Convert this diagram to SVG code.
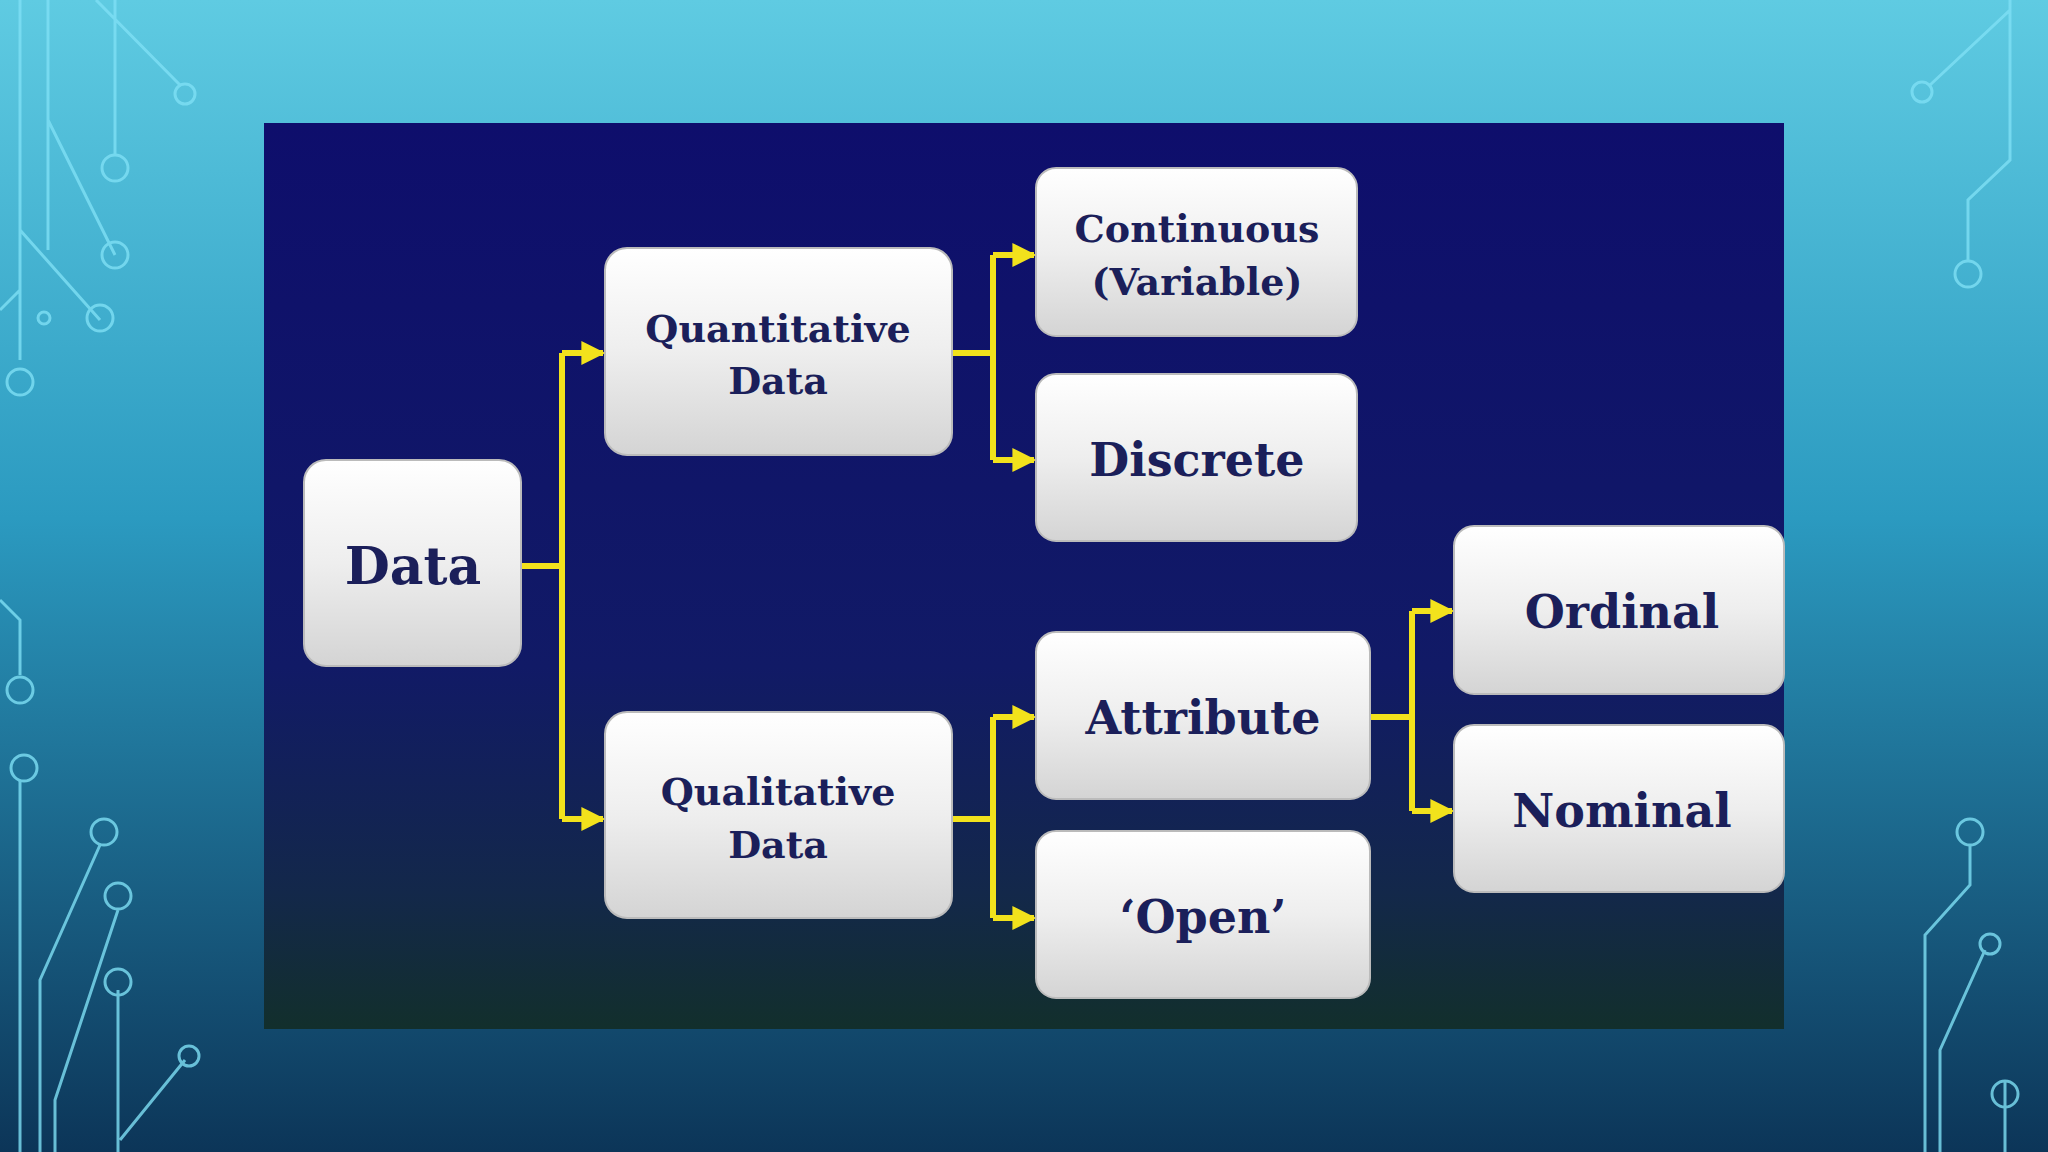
<svg xmlns="http://www.w3.org/2000/svg" width="2048" height="1152" viewBox="0 0 2048 1152">
<defs>
<linearGradient id="bg" x1="0" y1="0" x2="0" y2="1"><stop offset="0" stop-color="#5fcbe2"/><stop offset="0.45" stop-color="#2b9ac0"/><stop offset="1" stop-color="#0c3558"/></linearGradient>
<linearGradient id="panel" x1="0" y1="0" x2="0" y2="1"><stop offset="0" stop-color="#0e0e6c"/><stop offset="0.6" stop-color="#111a66"/><stop offset="0.85" stop-color="#13284a"/><stop offset="1" stop-color="#122f2c"/></linearGradient>
<linearGradient id="box" x1="0" y1="0" x2="0" y2="1"><stop offset="0" stop-color="#ffffff"/><stop offset="0.5" stop-color="#eeeeee"/><stop offset="1" stop-color="#d4d4d4"/></linearGradient>
<marker id="ar" viewBox="0 0 10 10" refX="9" refY="5" markerWidth="4" markerHeight="4" orient="auto"><path d="M0,0L10,5L0,10z" fill="#f2e21c"/></marker>
</defs>
<style>
.n rect{fill:url(#box);stroke:#bbbbbb;stroke-width:2}
.n text{font-family:"DejaVu Serif",serif;font-weight:bold;fill:#1b1f5a;text-anchor:middle}
.c path{fill:none;stroke:#f2e21c;stroke-width:6}
.c .a{marker-end:url(#ar)}
.d{fill:none;stroke:#7fe0f5;stroke-width:3;opacity:0.8}
</style>
<rect width="2048" height="1152" fill="url(#bg)"/>
<g class="d">
<path d="M20 0V360M48 0V250M96 0L180 85M115 0V155M20 230L100 320M48 120L115 255M0 310L20 290"/>
<circle cx="185" cy="94" r="10"/><circle cx="115" cy="168" r="13"/><circle cx="115" cy="255" r="13"/><circle cx="100" cy="318" r="13"/><circle cx="20" cy="382" r="13"/><circle cx="44" cy="318" r="6"/>
<path d="M0 600L20 620V675M20 780V1152M100 845L40 980V1152M118 910L55 1100V1152M118 990V1152M185 1060L120 1140"/>
<circle cx="20" cy="690" r="13"/><circle cx="24" cy="768" r="13"/><circle cx="104" cy="832" r="13"/><circle cx="118" cy="896" r="13"/><circle cx="118" cy="982" r="13"/><circle cx="189" cy="1056" r="10"/>
<path d="M2010 0V10L1930 85M2010 0V160L1968 200V262M1970 845V885L1925 935V1152M1985 950L1940 1050V1152M2005 1080V1152"/>
<circle cx="1922" cy="92" r="10"/><circle cx="1968" cy="274" r="13"/><circle cx="1970" cy="832" r="13"/><circle cx="1990" cy="944" r="10"/><circle cx="2005" cy="1094" r="13"/>
</g>
<rect x="264" y="123" width="1520" height="906" fill="url(#panel)"/>
<g class="c">
<path d="M521 566H562M562 353V819"/>
<path class="a" d="M562 353H603"/><path class="a" d="M562 819H603"/>
<path d="M952 353H993M993 255V460M952 819H993M993 717V918"/>
<path class="a" d="M993 255H1034"/><path class="a" d="M993 460H1034"/><path class="a" d="M993 717H1034"/><path class="a" d="M993 918H1034"/>
<path d="M1370 717H1412M1412 611V811"/>
<path class="a" d="M1412 611H1452"/><path class="a" d="M1412 811H1452"/>
</g>
<g id="data" class="n"><rect x="304" y="460" width="217" height="206" rx="22"/><text x="413" y="584" font-size="52">Data</text></g>
<g id="quantitative" class="n"><rect x="605" y="248" width="347" height="207" rx="22"/><text x="778" y="342" font-size="38">Quantitative</text><text x="778" y="394" font-size="38">Data</text></g>
<g id="qualitative" class="n"><rect x="605" y="712" width="347" height="206" rx="22"/><text x="778" y="805" font-size="38">Qualitative</text><text x="778" y="858" font-size="38">Data</text></g>
<g id="continuous" class="n"><rect x="1036" y="168" width="321" height="168" rx="20"/><text x="1197" y="242" font-size="38">Continuous</text><text x="1197" y="295" font-size="38">(Variable)</text></g>
<g id="discrete" class="n"><rect x="1036" y="374" width="321" height="167" rx="20"/><text x="1197" y="476" font-size="46">Discrete</text></g>
<g id="attribute" class="n"><rect x="1036" y="632" width="334" height="167" rx="20"/><text x="1203" y="734" font-size="46">Attribute</text></g>
<g id="open" class="n"><rect x="1036" y="831" width="334" height="167" rx="20"/><text x="1203" y="933" font-size="46">‘Open’</text></g>
<g id="ordinal" class="n"><rect x="1454" y="526" width="330" height="168" rx="20"/><text x="1622" y="628" font-size="46">Ordinal</text></g>
<g id="nominal" class="n"><rect x="1454" y="725" width="330" height="167" rx="20"/><text x="1622" y="827" font-size="46">Nominal</text></g>
</svg>
